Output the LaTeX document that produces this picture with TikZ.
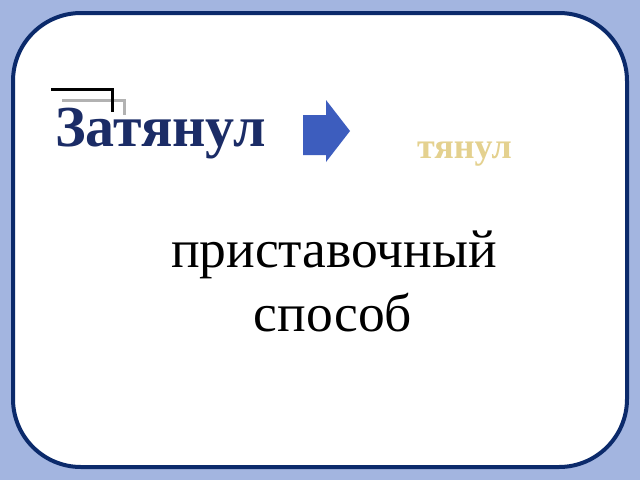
\documentclass[tikz,border=0pt]{standalone}
\usepackage{fontspec}
\setmainfont{Liberation Serif}
\definecolor{bgblue}{HTML}{A3B5E0}
\definecolor{frameblue}{HTML}{0B2A6B}
\definecolor{titleblue}{HTML}{1B2C66}
\definecolor{arrowblue}{HTML}{3D5DBE}
\definecolor{tan}{HTML}{E4D18F}
\tikzset{
  frame/.style={draw=frameblue, line width=4pt, fill=white, rounded corners=68pt},
  mainword/.style={font=\bfseries\fontsize{58}{58}\selectfont, text=titleblue, inner sep=0pt},
  rootword/.style={font=\bfseries\fontsize{36}{36}\selectfont, text=tan, inner sep=0pt},
  caption/.style={font=\fontsize{53.5}{53.5}\selectfont, text=black, inner sep=0pt},
}
\begin{document}
\begin{tikzpicture}[x=1pt,y=-1pt]
\useasboundingbox (0,0) rectangle (640,480);
\fill[bgblue] (0,0) rectangle (640,480);
\draw[frame] (13,13) rectangle (627,467);
% prefix marks
\draw[black!30, line width=3pt] (62,100) -- (124,100) -- (124,115);
\draw[black, line width=3pt] (51,89) -- (112,89) -- (112,112);
\node[mainword, anchor=base west] (w) at (55,146) {Затянул};
% arrow
\fill[arrowblue] (303,115) -- (326,115) -- (326,100) -- (350,131) -- (326,162) -- (326,155) -- (303,155) -- cycle;
\node[rootword, anchor=base west] (r) at (417,158) {тянул};
\node[caption, anchor=base] (c1) at (334,267) {приставочный};
\node[caption, anchor=base] (c2) at (333,331) {способ};
\end{tikzpicture}
\end{document}
